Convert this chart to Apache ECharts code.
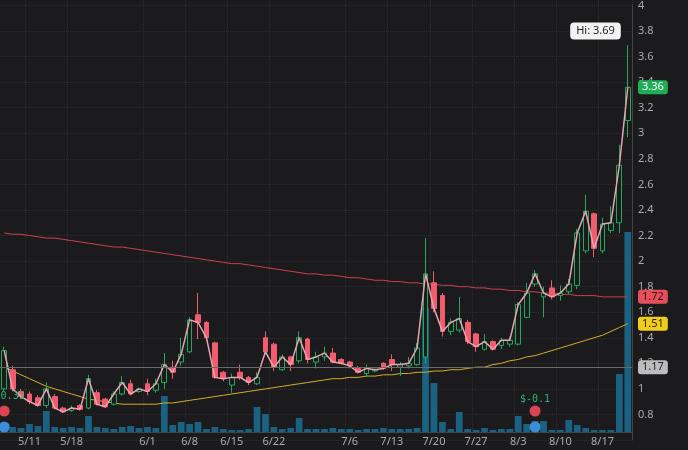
<!DOCTYPE html>
<html><head><meta charset="utf-8">
<script src="https://cdn.jsdelivr.net/npm/echarts@6/dist/echarts.min.js"></script>
<style>html,body{margin:0;padding:0;background:#1b1b1d}#c{width:688px;height:450px}</style>
</head><body><div id="c"></div>
<script>
const dates = ['5/6','5/7','5/8','5/11','5/12','5/13','5/14','5/15','5/18','5/19','5/20','5/21','5/22','5/26','5/27','5/28','5/29',
'6/1','6/2','6/3','6/4','6/5','6/8','6/9','6/10','6/11','6/12','6/15','6/16','6/17','6/18','6/19','6/22','6/23','6/24','6/25','6/26',
'6/29','6/30','7/1','7/2','7/6','7/7','7/8','7/9','7/10','7/13','7/14','7/15','7/16','7/17','7/20','7/21','7/22','7/23','7/24',
'7/27','7/28','7/29','7/30','7/31','8/3','8/4','8/5','8/6','8/7','8/10','8/11','8/12','8/13','8/14','8/17','8/18','8/19','8/20'];
const shownLabels = ['5/11','5/18','6/1','6/8','6/15','6/22','7/6','7/13','7/20','7/27','8/3','8/10','8/17'];
// [open, close, low, high]
const ohlc = [
[1.00,1.30,0.98,1.33],[1.15,1.00,0.98,1.18],[0.98,0.94,0.92,1.00],[0.96,0.90,0.88,0.98],[0.93,0.87,0.86,0.95],
[0.87,1.00,0.85,1.05],[0.94,0.85,0.84,0.96],[0.85,0.82,0.81,0.86],[0.83,0.85,0.82,0.87],[0.87,0.84,0.83,0.88],
[0.85,1.08,0.84,1.11],[0.97,0.88,0.87,0.99],[0.92,0.86,0.85,0.93],[0.88,0.96,0.87,0.98],[0.96,1.05,0.95,1.10],
[1.04,0.96,0.95,1.07],[0.98,1.00,0.97,1.01],[1.04,0.98,0.95,1.08],[0.99,1.04,0.97,1.08],[1.05,1.19,1.00,1.28],
[1.17,1.13,1.08,1.22],[1.21,1.27,1.18,1.40],[1.29,1.54,1.28,1.56],[1.58,1.52,1.39,1.75],[1.52,1.40,1.38,1.53],
[1.36,1.09,1.08,1.37],[1.13,1.08,1.06,1.14],[1.03,1.09,0.97,1.12],[1.13,1.09,1.07,1.19],[1.09,1.05,1.03,1.10],
[1.04,1.09,1.03,1.13],[1.40,1.29,1.27,1.45],[1.35,1.17,1.14,1.36],[1.15,1.25,1.14,1.27],[1.25,1.19,1.14,1.26],
[1.22,1.40,1.20,1.45],[1.39,1.23,1.20,1.40],[1.21,1.25,1.16,1.29],[1.25,1.28,1.22,1.33],[1.28,1.21,1.20,1.32],
[1.23,1.20,1.19,1.24],[1.21,1.18,1.16,1.22],[1.16,1.13,1.12,1.18],[1.12,1.16,1.10,1.19],[1.14,1.15,1.13,1.16],
[1.20,1.16,1.15,1.21],[1.23,1.19,1.14,1.27],[1.17,1.19,1.10,1.21],[1.18,1.20,1.16,1.25],[1.19,1.32,1.18,1.36],
[1.25,1.90,1.20,2.18],[1.83,1.63,1.60,1.92],[1.73,1.45,1.41,1.75],[1.45,1.52,1.42,1.55],[1.46,1.55,1.44,1.72],
[1.52,1.37,1.35,1.54],[1.43,1.33,1.29,1.44],[1.31,1.37,1.30,1.43],[1.37,1.31,1.30,1.38],[1.34,1.38,1.31,1.40],
[1.35,1.38,1.33,1.41],[1.35,1.66,1.34,1.68],[1.56,1.75,1.55,1.83],[1.82,1.90,1.80,1.93],[1.72,1.75,1.56,1.80],
[1.79,1.72,1.70,1.85],[1.73,1.75,1.69,1.81],[1.76,1.82,1.74,1.86],[1.81,2.22,1.78,2.25],[2.08,2.39,2.06,2.52],
[2.37,2.10,2.03,2.38],[2.08,2.29,2.06,2.34],[2.24,2.30,2.22,2.43],[2.30,2.75,2.22,2.91],[3.10,3.36,2.97,3.69]];
const volume = [6,5,4,8,6,21,5,4,5,4,16,5,4,3,5,6,4,5,4,36,7,10,8,10,3,5,3,2,2,3,25,18,5,3,4,14,3,3,3,4,3,3,2,3,3,4,3,3,3,4,
124,49,10,3,20,3,2,4,2,3,3,16,8,11,11,2,2,12,7,4,2,2,2,58,200];
const ma200 = [2.22,2.21,2.21,2.20,2.19,2.18,2.18,2.17,2.16,2.15,2.14,2.13,2.12,2.11,2.11,2.10,2.09,2.08,2.07,2.06,
2.05,2.04,2.03,2.02,2.01,2.00,1.99,1.98,1.98,1.97,1.96,1.95,1.94,1.93,1.92,1.91,1.90,1.90,1.89,1.89,
1.88,1.87,1.87,1.86,1.85,1.85,1.84,1.84,1.83,1.83,1.82,1.82,1.81,1.81,1.80,1.80,1.79,1.79,1.78,1.78,
1.77,1.77,1.76,1.76,1.75,1.75,1.74,1.74,1.73,1.73,1.73,1.72,1.72,1.72,1.72];
const ma50 = [1.17,1.14,1.11,1.08,1.05,1.02,1.00,0.98,0.96,0.94,0.92,0.91,0.90,0.89,0.88,0.88,0.88,0.88,0.88,0.89,
0.89,0.90,0.91,0.92,0.93,0.94,0.95,0.96,0.97,0.98,0.99,1.00,1.01,1.02,1.03,1.04,1.05,1.06,1.07,1.08,
1.08,1.09,1.09,1.10,1.10,1.11,1.11,1.12,1.12,1.13,1.13,1.14,1.14,1.15,1.15,1.16,1.17,1.17,1.19,1.20,
1.22,1.23,1.25,1.26,1.28,1.30,1.32,1.34,1.36,1.38,1.40,1.42,1.45,1.48,1.51];
const closes = ohlc.map(d => d[1]);
const lastPrice = 3.36, hiPrice = 3.69, refLine = 1.17;

const badge = (bg, fg) => ({show:true, position:'end', formatter:'{c}', backgroundColor:bg, color:fg,
  padding:[2,4,1,4], borderRadius:3, fontSize:11, fontFamily:'Noto Sans', distance:6});
const hidden = {color:'rgba(0,0,0,0)', width:0};
const chart = echarts.init(document.getElementById('c'));
chart.setOption({
  backgroundColor:'#1b1b1d', animation:false,
  grid:[{left:0,right:56,top:0,height:440},{left:0,right:56,top:0,height:432}],
  xAxis:[
    {type:'category',data:dates,gridIndex:0,show:false},
    {type:'category',data:dates,gridIndex:1,
     axisLine:{lineStyle:{color:'#444'}},axisTick:{show:false},
     axisLabel:{color:'#aaa',fontSize:11,fontFamily:'Noto Sans',margin:4,
       interval:(i,v)=>shownLabels.includes(v)},
     splitLine:{show:true,interval:(i,v)=>shownLabels.includes(v),lineStyle:{color:'#2e2e30',type:'dotted'}}}
  ],
  yAxis:[
    {type:'value',gridIndex:0,position:'right',min:0.6,max:4.0,interval:0.2,
     axisLine:{show:true,lineStyle:{color:'#444'}},
     axisLabel:{color:'#aaa',fontSize:11,fontFamily:'Noto Sans',margin:6,
       formatter:v=> (v<0.7? '' : String(+v.toFixed(1)))},
     splitLine:{lineStyle:{color:'#2e2e30',type:'dotted'}}},
    {type:'value',gridIndex:1,min:0,max:432,show:false,splitLine:{show:false}}
  ],
  series:[
    {type:'bar',xAxisIndex:1,yAxisIndex:1,data:volume,barWidth:'80%',itemStyle:{color:'#1a6182'},z:1,
     markPoint:{symbolSize:11,data:[
       {coord:[0,21],symbol:'circle',itemStyle:{color:'#d94552'},label:{show:false}},
       {coord:[0,5],symbol:'circle',itemStyle:{color:'#3a8ed6'},label:{show:false}},
       {coord:[63,21],symbol:'circle',itemStyle:{color:'#d94552'},label:{show:false}},
       {coord:[63,5],symbol:'circle',itemStyle:{color:'#3a8ed6'},label:{show:false}},
       {coord:[63,33],symbol:'circle',symbolSize:0,label:{show:true,position:'inside',formatter:'$-0.1',color:'#2bb673',fontSize:10,fontFamily:'DejaVu Sans Mono'}},
       {coord:[1,36],symbol:'circle',symbolSize:0,label:{show:true,position:'inside',formatter:'0.31',color:'#2bb673',fontSize:10,fontFamily:'DejaVu Sans Mono'}}
     ]}},
    {type:'line',data:ma200,symbol:'none',lineStyle:{color:'#c9434c',width:1},z:2,
     markLine:{symbol:'none',silent:true,data:[{yAxis:1.72,lineStyle:hidden,label:badge('#e5505c','#3a0c10')}]}},
    {type:'line',data:ma50,symbol:'none',lineStyle:{color:'#d4ae27',width:1},z:2,
     markLine:{symbol:'none',silent:true,data:[{yAxis:1.51,lineStyle:hidden,label:badge('#f2cc1c','#2a2200')}]}},
    {type:'candlestick',data:ohlc,barWidth:'62%',z:3,
     itemStyle:{color:'#1b1b1d',color0:'#f25d6e',borderColor:'#22a95d',borderColor0:'#f25d6e',borderWidth:1},
     markLine:{symbol:'none',silent:true,data:[
       {yAxis:refLine,lineStyle:{color:'#6a6a6a',type:'solid',width:1},label:badge('#bdbdbd','#222')},
       {yAxis:lastPrice,lineStyle:hidden,label:badge('#1fae55','#ffffff')}
     ]},
     markPoint:{data:[{coord:[74,hiPrice],symbol:'circle',symbolSize:0,
       label:{show:true,formatter:'Hi: '+hiPrice,backgroundColor:'#f2f2f2',color:'#222',borderRadius:4,
         padding:[3,6],fontSize:11,fontFamily:'Noto Sans',position:'left',offset:[-2,-14]}}]}},
    {type:'line',data:closes,symbol:'none',lineStyle:{color:'#e6a3b4',width:1.5},z:4}
  ]
});
</script></body></html>
